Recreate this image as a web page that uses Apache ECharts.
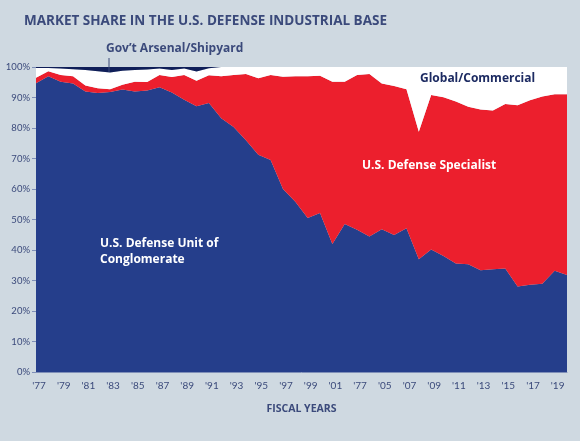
<!DOCTYPE html>
<html>
<head>
<meta charset="utf-8">
<script src="https://cdn.jsdelivr.net/npm/echarts@6/dist/echarts.min.js"></script>
<style>
  html, body { margin: 0; padding: 0; background: #cfd9e1; }
  #main { width: 580px; height: 441px; }
</style>
</head>
<body>
<div id="main"></div>
<script>
// fiscal years 1977..2020
var years = [];
for (var y = 1977; y <= 2020; y++) years.push(String(y));

// tick labels as printed on the original (note the '77 where '03 should be)
var tickLabels = ["'77", "'79", "'81", "'83", "'85", "'87", "'89", "'91", "'93", "'95", "'97",
  "'99", "'01", "'77", "'05", "'07", "'09", "'11", "'13", "'15", "'17", "'19"];

// share of market, percent
var conglomerate = [94.7, 97.0, 95.2, 94.6, 92.0, 91.5, 91.8, 92.6, 92.0, 92.3, 93.4, 91.6, 89.3, 87.1, 88.2,
  83.2, 80.3, 76.0, 71.2, 69.5, 60.0, 55.8, 50.5, 52.1, 42.0, 48.5, 46.6, 44.4, 46.8, 44.9, 47.1,
  37.0, 40.2, 38.0, 35.6, 35.3, 33.4, 33.7, 33.9, 28.0, 28.6, 28.9, 33.2, 31.8];
var specialist = [1.8, 1.6, 2.2, 2.4, 1.9, 1.5, 0.9, 1.6, 3.2, 2.8, 4.0, 5.1, 8.1, 8.4, 9.1,
  13.8, 17.1, 21.7, 25.1, 27.9, 36.8, 41.2, 46.5, 45.0, 53.2, 46.7, 50.8, 53.3, 47.8, 48.9, 45.6,
  41.8, 50.6, 52.1, 53.1, 51.7, 52.7, 52.0, 54.0, 59.5, 60.5, 61.4, 57.9, 59.3];
var globalCommercial = [3.2, 1.1, 2.1, 2.3, 5.1, 5.6, 5.5, 4.6, 3.8, 4.1, 2.1, 2.3, 2.1, 3.0, 2.3,
  3.0, 2.6, 2.3, 3.7, 2.6, 3.2, 3.0, 3.0, 2.9, 4.8, 4.8, 2.6, 2.3, 5.4, 6.2, 7.3,
  21.2, 9.2, 9.9, 11.3, 13.0, 13.9, 14.3, 12.1, 12.5, 10.9, 9.7, 8.9, 8.9];
var govArsenal = [0.3, 0.3, 0.5, 0.7, 1.0, 1.4, 1.8, 1.2, 1.0, 0.8, 0.5, 1.0, 0.5, 1.5, 0.4,
  0, 0, 0, 0, 0, 0, 0, 0, 0, 0, 0, 0, 0, 0, 0, 0,
  0, 0, 0, 0, 0, 0, 0, 0, 0, 0, 0, 0, 0];

var textColor = '#3b4a7b';
var chart = echarts.init(document.getElementById('main'));

function areaSeries(name, data, color) {
  return {
    name: name,
    type: 'line',
    stack: 'share',
    data: data,
    symbol: 'none',
    lineStyle: { width: 0 },
    areaStyle: { color: color, opacity: 1 },
    itemStyle: { color: color }
  };
}

chart.setOption({
  backgroundColor: '#cfd9e1',
  animation: false,
  title: {
    text: 'MARKET SHARE IN THE U.S. DEFENSE INDUSTRIAL BASE',
    left: 19,
    top: 9,
    textStyle: { color: textColor, fontSize: 13.5, fontWeight: 'bold', fontFamily: 'Open Sans' }
  },
  grid: { left: 36, right: 13, top: 67, bottom: 69 },
  xAxis: {
    type: 'category',
    data: years,
    boundaryGap: false,
    name: 'FISCAL YEARS',
    nameLocation: 'middle',
    nameGap: 32,
    nameTextStyle: { color: textColor, fontSize: 10.5, fontWeight: 'bold', fontFamily: 'Open Sans' },
    axisLine: { show: true, lineStyle: { color: '#7f8fb8', width: 1 } },
    axisTick: { show: false },
    axisLabel: {
      interval: 1,
      margin: 9,
      color: textColor,
      fontSize: 10,
      fontFamily: 'Lato',
      padding: [0, 0, 0, 6],
      formatter: function (v, i) { return tickLabels[i / 2] || ''; }
    },
    splitLine: { show: false }
  },
  yAxis: {
    type: 'value',
    min: 0,
    max: 100,
    interval: 10,
    axisLine: { show: false },
    axisTick: { show: true, length: 4, lineStyle: { color: '#7f8fb8' } },
    axisLabel: { color: textColor, fontSize: 9.5, fontFamily: 'Lato', margin: 6, formatter: '{value}%' },
    splitLine: { show: false }
  },
  series: [
    areaSeries('U.S. Defense Unit of Conglomerate', conglomerate, '#253e8b'),
    areaSeries('U.S. Defense Specialist', specialist, '#ec1f2d'),
    areaSeries('Global/Commercial', globalCommercial, '#ffffff'),
    areaSeries("Gov't Arsenal/Shipyard", govArsenal, '#0f1e58')
  ],
  graphic: [
    { type: 'text', z: 100, left: 106, top: 43, style: { text: 'Gov\u2019t Arsenal/Shipyard', fill: textColor, font: 'bold 12px "Open Sans"' } },
    { type: 'line', z: 100, shape: { x1: 109, y1: 58, x2: 109, y2: 72 }, style: { stroke: textColor, lineWidth: 1 } },
    { type: 'text', z: 100, left: 420, top: 73, style: { text: 'Global/Commercial', fill: '#1d2b62', font: 'bold 12px "Open Sans"' } },
    { type: 'text', z: 100, left: 362, top: 160, style: { text: 'U.S. Defense Specialist', fill: '#ffffff', font: 'bold 12px "Open Sans"' } },
    { type: 'text', z: 100, left: 100, top: 236, style: { text: 'U.S. Defense Unit of\nConglomerate', fill: '#ffffff', font: 'bold 12px "Open Sans"', lineHeight: 16 } }
  ]
});
</script>
</body>
</html>
